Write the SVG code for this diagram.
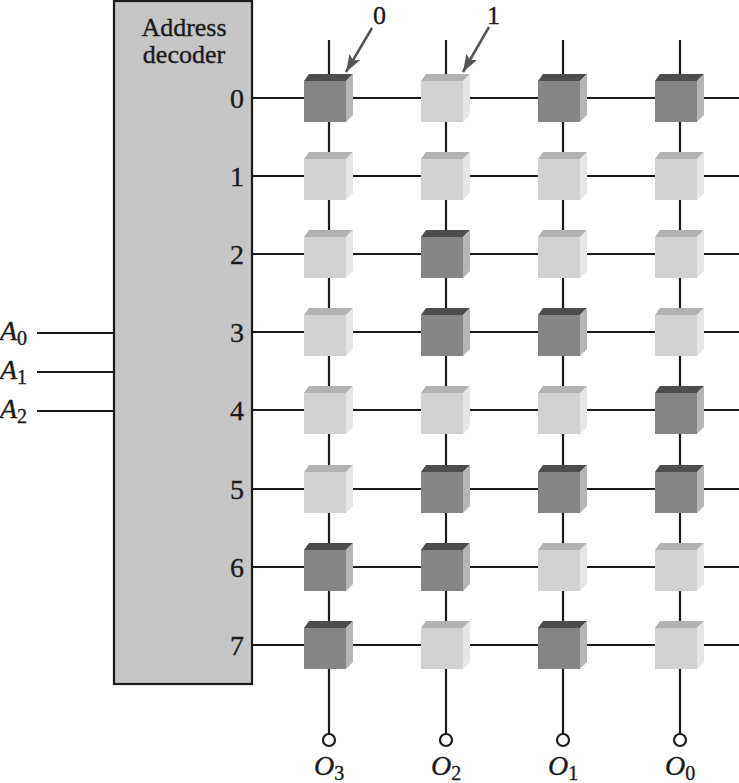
<svg xmlns="http://www.w3.org/2000/svg" xmlns:xlink="http://www.w3.org/1999/xlink" width="739" height="783" viewBox="0 0 739 783">
<style>
.wire{stroke:#1a1a1a;stroke-width:2.2;fill:none}
.arrow{stroke:#555;stroke-width:2.5;fill:none}
.t{font-family:"Liberation Serif","Times New Roman",serif;fill:#1a1a1a;stroke:#1a1a1a;stroke-width:0.35}
.num{font-size:28px;text-anchor:end}
.lab{font-size:28px;font-style:italic}
.sub{font-size:20px;font-style:normal}
.df{fill:#858585}.dt{fill:#4d4d4d}.ds{fill:#b5b5b5}
.lf{fill:#d2d2d2}.lt{fill:#b2b2b2}.ls{fill:#e6e6e6}
</style>
<defs>
<g id="dark">
<rect class="df" x="-25" y="-17" width="42" height="41"/>
<polygon class="dt" points="-25,-17 -20,-24 24,-24 17,-17"/>
<polygon class="ds" points="17,-17 24,-24 24,17 17,24"/>
</g>
<g id="light">
<rect class="lf" x="-25" y="-17" width="42" height="41"/>
<polygon class="lt" points="-25,-17 -20,-24 24,-24 17,-17"/>
<polygon class="ls" points="17,-17 24,-24 24,17 17,24"/>
</g>
<marker id="ah" viewBox="0 0 14 10" refX="14" refY="5" markerWidth="7" markerHeight="5" orient="auto" markerUnits="strokeWidth">
<path d="M0,0 L14,5 L0,10 L3,5 z" fill="#555"/>
</marker>
</defs>
<g id="decoder">
<rect x="114" y="1" width="138" height="683" fill="#c6c6c6" stroke="#1a1a1a" stroke-width="2.2"/>
<text class="t" x="184" y="36" font-size="26" text-anchor="middle">Address</text>
<text class="t" x="184" y="63" font-size="26" text-anchor="middle">decoder</text>
<text class="t num" x="244" y="108">0</text>
<text class="t num" x="244" y="186">1</text>
<text class="t num" x="244" y="264">2</text>
<text class="t num" x="244" y="342">3</text>
<text class="t num" x="244" y="420">4</text>
<text class="t num" x="244" y="499">5</text>
<text class="t num" x="244" y="577">6</text>
<text class="t num" x="244" y="655">7</text>
</g>
<g id="connectors">
<line class="wire" x1="37" y1="333" x2="114" y2="333"/>
<line class="wire" x1="37" y1="372" x2="114" y2="372"/>
<line class="wire" x1="37" y1="411" x2="114" y2="411"/>
<line class="wire" x1="252" y1="98" x2="739" y2="98"/>
<line class="wire" x1="252" y1="176" x2="739" y2="176"/>
<line class="wire" x1="252" y1="254" x2="739" y2="254"/>
<line class="wire" x1="252" y1="332" x2="739" y2="332"/>
<line class="wire" x1="252" y1="410" x2="739" y2="410"/>
<line class="wire" x1="252" y1="489" x2="739" y2="489"/>
<line class="wire" x1="252" y1="567" x2="739" y2="567"/>
<line class="wire" x1="252" y1="645" x2="739" y2="645"/>
<line class="wire" x1="329" y1="40" x2="329" y2="734"/>
<line class="wire" x1="446" y1="40" x2="446" y2="734"/>
<line class="wire" x1="563" y1="40" x2="563" y2="734"/>
<line class="wire" x1="680" y1="40" x2="680" y2="734"/>
<line class="arrow" x1="372" y1="28" x2="346" y2="72" marker-end="url(#ah)"/>
<line class="arrow" x1="489" y1="27" x2="463" y2="72" marker-end="url(#ah)"/>
</g>
<g id="cells">
<use xlink:href="#dark" x="329" y="98"/><use xlink:href="#light" x="446" y="98"/><use xlink:href="#dark" x="563" y="98"/><use xlink:href="#dark" x="680" y="98"/>
<use xlink:href="#light" x="329" y="176"/><use xlink:href="#light" x="446" y="176"/><use xlink:href="#light" x="563" y="176"/><use xlink:href="#light" x="680" y="176"/>
<use xlink:href="#light" x="329" y="254"/><use xlink:href="#dark" x="446" y="254"/><use xlink:href="#light" x="563" y="254"/><use xlink:href="#light" x="680" y="254"/>
<use xlink:href="#light" x="329" y="332"/><use xlink:href="#dark" x="446" y="332"/><use xlink:href="#dark" x="563" y="332"/><use xlink:href="#light" x="680" y="332"/>
<use xlink:href="#light" x="329" y="410"/><use xlink:href="#light" x="446" y="410"/><use xlink:href="#light" x="563" y="410"/><use xlink:href="#dark" x="680" y="410"/>
<use xlink:href="#light" x="329" y="489"/><use xlink:href="#dark" x="446" y="489"/><use xlink:href="#dark" x="563" y="489"/><use xlink:href="#dark" x="680" y="489"/>
<use xlink:href="#dark" x="329" y="567"/><use xlink:href="#dark" x="446" y="567"/><use xlink:href="#light" x="563" y="567"/><use xlink:href="#light" x="680" y="567"/>
<use xlink:href="#dark" x="329" y="645"/><use xlink:href="#light" x="446" y="645"/><use xlink:href="#dark" x="563" y="645"/><use xlink:href="#light" x="680" y="645"/>
</g>
<g id="outputs">
<circle cx="329" cy="740" r="6" fill="#fff" stroke="#1a1a1a" stroke-width="2.2"/>
<circle cx="446" cy="740" r="6" fill="#fff" stroke="#1a1a1a" stroke-width="2.2"/>
<circle cx="563" cy="740" r="6" fill="#fff" stroke="#1a1a1a" stroke-width="2.2"/>
<circle cx="680" cy="740" r="6" fill="#fff" stroke="#1a1a1a" stroke-width="2.2"/>
<text class="t lab" x="314" y="775">O<tspan class="sub" dy="5">3</tspan></text>
<text class="t lab" x="431" y="775">O<tspan class="sub" dy="5">2</tspan></text>
<text class="t lab" x="548" y="775">O<tspan class="sub" dy="5">1</tspan></text>
<text class="t lab" x="665" y="775">O<tspan class="sub" dy="5">0</tspan></text>
</g>
<g id="inputs">
<text class="t lab" x="0" y="340">A<tspan class="sub" dy="5">0</tspan></text>
<text class="t lab" x="0" y="379">A<tspan class="sub" dy="5">1</tspan></text>
<text class="t lab" x="0" y="418">A<tspan class="sub" dy="5">2</tspan></text>
</g>
<g id="bitlabels">
<text class="t" x="373" y="24" font-size="26">0</text>
<text class="t" x="487" y="24" font-size="26">1</text>
</g>
</svg>
